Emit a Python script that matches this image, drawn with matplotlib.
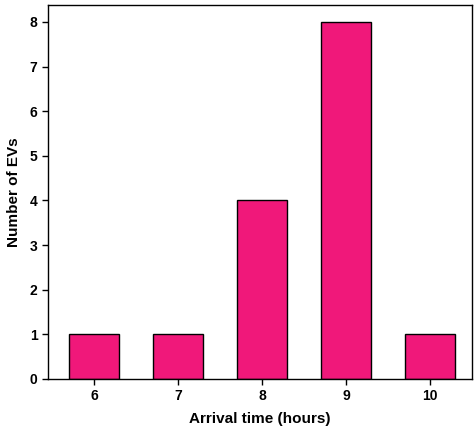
import matplotlib
matplotlib.use("Agg")
import matplotlib.pyplot as plt

hours = [6, 7, 8, 9, 10]
ev_counts = [1, 1, 4, 8, 1]

plt.rcParams["font.family"] = ["Liberation Sans", "DejaVu Sans"]
plt.rcParams["font.weight"] = "bold"

fig = plt.figure(figsize=(4.74, 4.30), dpi=100)
ax = fig.add_axes([48 / 474, 51 / 430, 424 / 474, 374 / 430])
ax.bar(hours, ev_counts, width=0.6, color="#F0187A", edgecolor="black", linewidth=1)
ax.set_xlim(5.45, 10.5)
ax.set_ylim(0, 8.38)
ax.set_xticks(hours)
ax.set_yticks(range(0, 9))
ax.tick_params(direction="out", length=4, width=1, labelsize=10)
for s in ax.spines.values():
    s.set_linewidth(1)
ax.set_xlabel("Arrival time (hours)", fontsize=11, fontweight="bold", labelpad=6)
ax.set_ylabel("Number of EVs", fontsize=11, fontweight="bold", labelpad=6)
fig.savefig("out.png", dpi=100)
